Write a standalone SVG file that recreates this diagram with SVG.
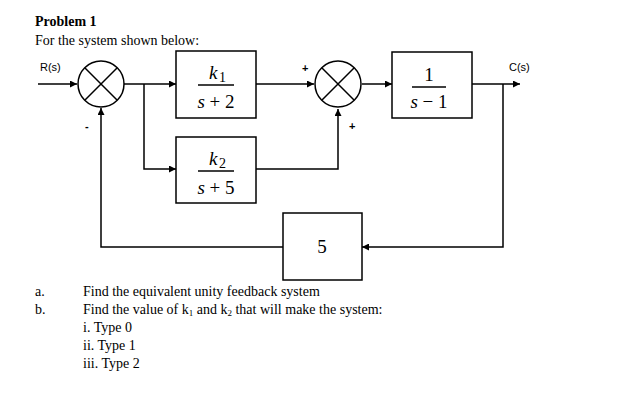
<svg xmlns="http://www.w3.org/2000/svg" width="627" height="400" viewBox="0 0 627 400">
<style>
.t{font-family:"Liberation Serif",serif;font-size:14px;fill:#000}
.s{font-family:"Liberation Sans",sans-serif;font-size:11px;fill:#000}
.m{font-family:"Liberation Serif",serif;font-size:19px;fill:#000}
.b{fill:#fff;stroke:#000;stroke-width:1.5}
.l{fill:none;stroke:#000;stroke-width:1.5}
</style>
<defs><marker id="a" viewBox="0 0 10 10" refX="10" refY="5" markerWidth="7" markerHeight="7" markerUnits="userSpaceOnUse" orient="auto"><path d="M0,0L10,5L0,10z"/></marker></defs>
<rect width="627" height="400" fill="#fff"/>
<text class="t" x="35" y="26" font-weight="bold">Problem 1</text>
<text class="t" x="35" y="45">For the system shown below:</text>
<g id="connectors" class="l">
<path d="M38,84H77" marker-end="url(#a)"/>
<path d="M124,84H176" marker-end="url(#a)"/>
<path d="M144,84V169H176" marker-end="url(#a)"/>
<path d="M256,84H314" marker-end="url(#a)"/>
<path d="M256,169H338V109" marker-end="url(#a)"/>
<path d="M362,84H392" marker-end="url(#a)"/>
<path d="M472,84H520" marker-end="url(#a)"/>
<path d="M503,84V247H362" marker-end="url(#a)"/>
<path d="M283,247H101V108" marker-end="url(#a)"/>
</g>
<g id="sum1"><circle class="b" cx="101" cy="84" r="23"/><path class="l" d="M85,68L117,100M117,68L85,100"/></g>
<g id="sum2"><circle class="b" cx="338" cy="84" r="23"/><path class="l" d="M322,68L354,100M354,68L322,100"/></g>
<g id="g1"><rect class="b" x="176" y="51" width="80" height="67"/><line class="l" x1="198" y1="85" x2="234" y2="85"/><text class="m" x="209" y="79" font-style="italic">k</text><text class="t" x="219" y="82" font-size="10">1</text><text class="m" x="216" y="108" text-anchor="middle"><tspan font-style="italic">s</tspan> + 2</text></g>
<g id="g2"><rect class="b" x="176" y="137" width="80" height="66"/><line class="l" x1="198" y1="171" x2="234" y2="171"/><text class="m" x="209" y="165" font-style="italic">k</text><text class="t" x="219" y="168" font-size="10">2</text><text class="m" x="216" y="194" text-anchor="middle"><tspan font-style="italic">s</tspan> + 5</text></g>
<g id="g3"><rect class="b" x="392" y="52" width="80" height="66"/><line class="l" x1="412" y1="87" x2="446" y2="87"/><text class="m" x="429" y="81" text-anchor="middle">1</text><text class="m" x="429" y="108" text-anchor="middle"><tspan font-style="italic">s</tspan> − 1</text></g>
<g id="h"><rect class="b" x="283" y="213" width="79" height="67"/><text class="m" x="322" y="253" text-anchor="middle">5</text></g>
<text class="s" x="40" y="71">R(s)</text>
<text class="s" x="509" y="71">C(s)</text>
<text class="s" x="85" y="130" font-weight="bold">-</text>
<text class="s" x="302" y="72" font-weight="bold">+</text>
<text class="s" x="349" y="130" font-weight="bold">+</text>
<text class="t" x="35" y="296">a.</text>
<text class="t" x="83" y="296">Find the equivalent unity feedback system</text>
<text class="t" x="35" y="314">b.</text>
<text class="t" x="83" y="314">Find the value of k<tspan font-size="9" dy="2">1</tspan><tspan dy="-2"> and k</tspan><tspan font-size="9" dy="2">2</tspan><tspan dy="-2"> that will make the system:</tspan></text>
<text class="t" x="83" y="332">i. Type 0</text>
<text class="t" x="83" y="350">ii. Type 1</text>
<text class="t" x="83" y="368">iii. Type 2</text>
</svg>
